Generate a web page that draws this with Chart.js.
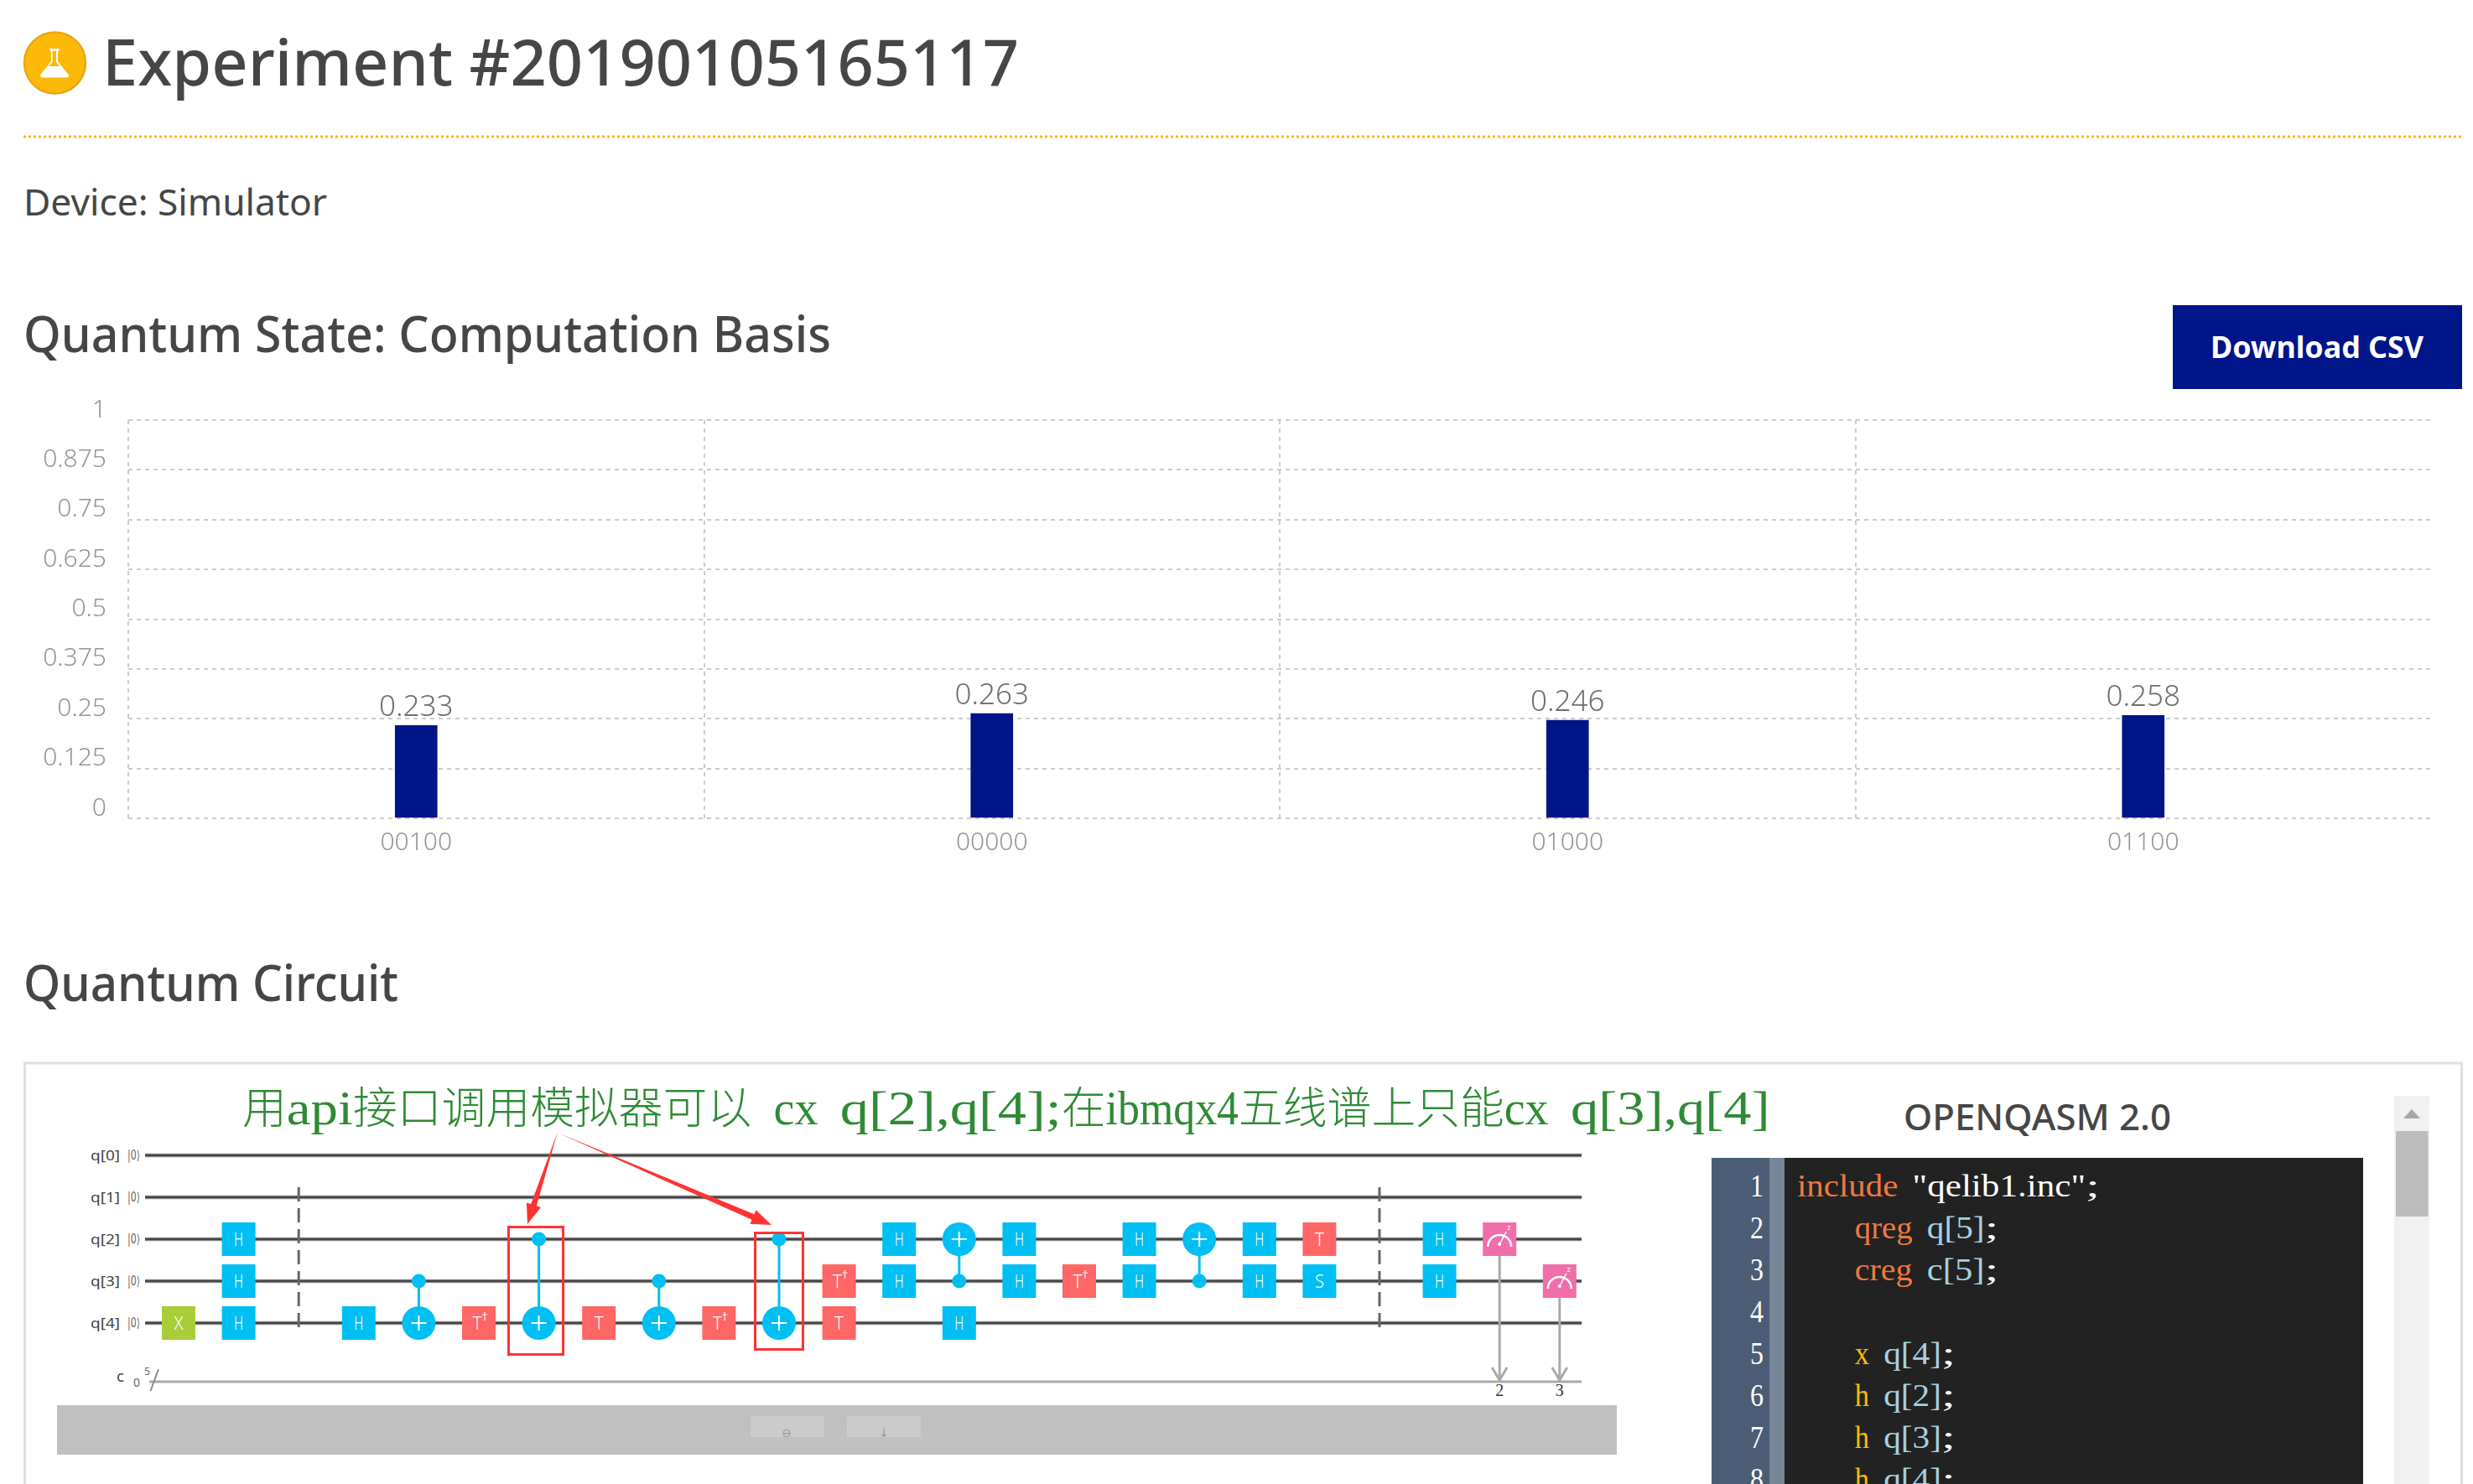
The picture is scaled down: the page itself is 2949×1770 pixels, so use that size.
<!DOCTYPE html>
<html>
<head>
<meta charset="utf-8">
<title>Experiment #20190105165117</title>
<script src="https://cdn.jsdelivr.net/npm/chart.js@4/dist/chart.umd.min.js"></script>
<style>
html, body { margin: 0; background: #fff; overflow: hidden; }
#page { position: absolute; left: 0; top: 0; }
#stateChart { position: absolute; left: 0; top: 440px; }
</style>
</head>
<body>
<svg id="page" width="2949" height="1770" xmlns="http://www.w3.org/2000/svg"></svg>
<canvas id="stateChart" width="2949" height="600"></canvas>
<script>
// chart data
const states = ['00100', '00000', '01000', '01100'];
const probabilities = [0.233, 0.263, 0.246, 0.258];
const yTickLabels = ['0', '0.125', '0.25', '0.375', '0.5', '0.625', '0.75', '0.875', '1'];

// circuit: [column, wire, label]
const singleGates = [
    [0, 4, 'X'], [1, 2, 'H'], [1, 3, 'H'], [1, 4, 'H'], [3, 4, 'H'],
    [5, 4, 'T†'], [7, 4, 'T'], [9, 4, 'T†'], [11, 3, 'T†'], [11, 4, 'T'],
    [12, 2, 'H'], [12, 3, 'H'], [13, 4, 'H'], [14, 2, 'H'], [14, 3, 'H'],
    [15, 3, 'T†'], [16, 2, 'H'], [16, 3, 'H'], [18, 2, 'H'], [18, 3, 'H'],
    [19, 2, 'T'], [19, 3, 'S'], [21, 2, 'H'], [21, 3, 'H']
];
// [column, control wire, target wire]
const cxGates = [[4, 3, 4], [6, 2, 4], [8, 3, 4], [10, 2, 4], [13, 3, 2], [17, 3, 2]];
const barrierColumns = [2, 20];
// [column, wire, classical bit]
const measures = [[22, 2, '2'], [23, 3, '3']];

const note = '用api接口调用模拟器可以 cx q[2],q[4];在ibmqx4五线谱上只能cx q[3],q[4]';

const codeLines = [
    [[0, 'include', 'kw'], [8, '"qelib1.inc"', 'txt'], [20, ';', 'txt']],
    [[4, 'qreg', 'kw'], [9, 'q[5]', 'arg'], [13, ';', 'txt']],
    [[4, 'creg', 'kw'], [9, 'c[5]', 'arg'], [13, ';', 'txt']],
    [],
    [[4, 'x', 'op'], [6, 'q[4]', 'arg'], [10, ';', 'txt']],
    [[4, 'h', 'op'], [6, 'q[2]', 'arg'], [10, ';', 'txt']],
    [[4, 'h', 'op'], [6, 'q[3]', 'arg'], [10, ';', 'txt']],
    [[4, 'h', 'op'], [6, 'q[4]', 'arg'], [10, ';', 'txt']]
];
const codeColors = { kw: '#ee7a3f', txt: '#ffffff', arg: '#a6d0e2', op: '#fdb90a' };

const UI_FONT = '"Noto Sans", "Open Sans", sans-serif';
const page = document.getElementById('page');

function add(tag, attrs, text) {
    const node = document.createElementNS('http://www.w3.org/2000/svg', tag);
    for (const k in attrs) node.setAttribute(k, attrs[k]);
    if (text !== undefined) node.textContent = text;
    page.appendChild(node);
    return node;
}

function rect(x, y, w, h, fill) {
    return add('rect', { x: x, y: y, width: w, height: h, fill: fill });
}

function line(x1, y1, x2, y2, stroke, width, dash) {
    const attrs = { x1: x1, y1: y1, x2: x2, y2: y2, stroke: stroke, 'stroke-width': width };
    if (dash) attrs['stroke-dasharray'] = dash;
    return add('line', attrs);
}

// text squeezed to the measured width of the original
function label(str, x, y, size, width, fill, weight, family, anchor) {
    const attrs = { x: x, y: y, 'font-size': size, fill: fill, 'font-weight': weight || 400, 'font-family': family || UI_FONT };
    if (width) {
        attrs.textLength = width;
        attrs.lengthAdjust = 'spacingAndGlyphs';
    }
    if (anchor) attrs['text-anchor'] = anchor;
    return add('text', attrs, str);
}

// full width CJK and half width latin, like the mincho font in the screenshot
function mixedText(str, x, baseline, em, fill) {
    const parts = str.match(/[\u4e00-\u9fff]+|[^\u4e00-\u9fff\s]+|\s+/g);
    let cx = x;
    parts.forEach(p => {
        if (/^\s/.test(p)) {
            cx += p.length * em / 2;
        } else if (/[\u4e00-\u9fff]/.test(p)) {
            label(p, cx, baseline - 1, em, p.length * em, fill, 300, '"Noto Sans CJK SC"');
            cx += p.length * em;
        } else {
            label(p, cx, baseline, em * 1.1, p.length * em / 2, fill, 400, '"Liberation Serif"');
            cx += p.length * em / 2;
        }
    });
}

function redArrow(x1, y1, x2, y2) {
    const dx = x2 - x1, dy = y2 - y1, len = Math.hypot(dx, dy);
    const ux = dx / len, uy = dy / len, nx = -uy, ny = ux;
    const bx = x2 - ux * 24, by = y2 - uy * 24;
    const pts = [
        [x1, y1],
        [bx + nx * 3.5, by + ny * 3.5],
        [bx + nx * 9, by + ny * 9],
        [x2, y2],
        [bx - nx * 9, by - ny * 9],
        [bx - nx * 3.5, by - ny * 3.5]
    ];
    add('polygon', { points: pts.map(p => p.join(',')).join(' '), fill: '#f33' });
}

// header part
add('circle', { cx: 65.5, cy: 75, r: 36.5, fill: '#fdb90a', stroke: '#e8a90e', 'stroke-width': 2.5 });
add('path', { d: 'M59 58h11.5v3h-1.5v12l12.5 16q1.5 3-2 3.5h-29q-3.5-.5-2-3.5l12.5-16v-12h-1.5z', fill: '#fff' });
add('path', { d: 'M62.5 61h4.5v13l4 5h-12.5l4-5z', fill: '#fdb90a' });
label('Experiment #20190105165117', 122, 102, 76, 1093, '#464646', 500);
line(28, 163, 2937, 163, '#fdb90a', 3, '3 3');
label('Device: Simulator', 28, 256.5, 44, 362, '#464646');
label('Quantum State: Computation Basis', 28, 419.5, 60, 963, '#464646', 500);
rect(2591, 364, 345, 100, '#001587');
label('Download CSV', 2636, 427, 35, 254, '#ffffff', 700);
label('Quantum Circuit', 28, 1194, 60, 447, '#464646', 500);

// circuit panel
add('rect', { x: 29.5, y: 1268, width: 2906, height: 600, fill: 'none', stroke: '#e0e0e0', 'stroke-width': 3 });
mixedText(note, 289, 1341, 52.8, '#2f8a36');

const wireY = w => 1378 + w * 50;
const colX = c => 213 + c * 71.6;
const BLUE = '#00bff3', RED = '#ff6666';

[0, 1, 2, 3, 4].forEach(w => {
    line(173, wireY(w), 1886, wireY(w), '#c8c8c8', 5);
    line(173, wireY(w), 1886, wireY(w), '#444', 3);
    label('q[' + w + ']', 108, wireY(w) + 6, 17, 35, '#444');
    label('|0⟩', 152, wireY(w) + 5, 15, 15, '#666', 400, '"DejaVu Sans"');
});
line(178, 1648, 1886, 1648, '#aaa', 3);
line(189, 1633, 179.5, 1659, '#888', 2);
label('c', 139, 1648, 18, 9, '#444');
label('0', 159, 1654, 15, 8, '#666');
label('5', 172, 1640, 12, 7, '#666');

barrierColumns.forEach(c => line(colX(c), 1416, colX(c), 1591, '#666', 3, '17 8'));

measures.forEach(m => {
    const x = colX(m[0]);
    line(x, wireY(m[1]) + 20, x, 1647, '#aaa', 3);
    add('polyline', { points: (x - 9) + ',1631 ' + x + ',1646 ' + (x + 9) + ',1631', fill: 'none', stroke: '#aaa', 'stroke-width': 3 });
    label(m[2], x, 1665, 20, 0, '#333', 400, '"Liberation Serif"', 'middle');
    const y = wireY(m[1]);
    rect(x - 20, y - 20, 40, 40, '#f06fab');
    add('path', { d: 'M' + (x - 14) + ' ' + (y + 9) + 'a14 14 0 0 1 28 0', fill: 'none', stroke: '#fff', 'stroke-width': 2.5 });
    add('path', { d: 'M' + x + ' ' + (y + 6) + 'l8-15', fill: 'none', stroke: '#fff', 'stroke-width': 1.5 });
    add('circle', { cx: x, cy: y + 6, r: 2, fill: '#fff' });
    label('z', x + 9, y - 11, 9, 0, '#fff');
});

singleGates.forEach(g => {
    const x = colX(g[0]), y = wireY(g[1]), name = g[2];
    const fill = name === 'X' ? '#a7ce38' : name[0] === 'T' ? RED : BLUE;
    rect(x - 20, y - 20, 40, 40, fill);
    if (name === 'T†') {
        label('T', x - 2, y + 8, 22, 11, '#fff', 300, UI_FONT, 'middle');
        label('†', x + 7, y - 3, 13, 0, '#fff', 400, UI_FONT, 'middle');
    } else {
        label(name, x, y + 8, 22, 11, '#fff', 300, UI_FONT, 'middle');
    }
});

cxGates.forEach(g => {
    const x = colX(g[0]), cy = wireY(g[1]), ty = wireY(g[2]);
    line(x, cy, x, ty, BLUE, 3);
    add('circle', { cx: x, cy: cy, r: 8.5, fill: BLUE });
    add('circle', { cx: x, cy: ty, r: 20, fill: BLUE });
    line(x - 9, ty, x + 9, ty, '#fff', 2);
    line(x, ty - 9, x, ty + 9, '#fff', 2);
});

// hand drawn annotation
add('rect', { x: 606.5, y: 1463.5, width: 65, height: 152, fill: 'none', stroke: '#f33', 'stroke-width': 3 });
add('rect', { x: 900.5, y: 1470.5, width: 57, height: 139, fill: 'none', stroke: '#f33', 'stroke-width': 3 });
redArrow(665, 1350, 629, 1460);
redArrow(665, 1351, 920, 1461);

// zoom toolbar under the circuit
rect(68, 1676, 1860, 59, '#c0c0c0');
rect(895, 1689, 88, 25, '#cbcbcb');
rect(1010, 1689, 88, 25, '#cbcbcb');
label('⊖', 938, 1714, 14, 0, '#999', 400, '"DejaVu Sans"', 'middle');
label('↓', 1054, 1714, 14, 0, '#999', 400, '"DejaVu Sans"', 'middle');

// code editor
label('OPENQASM 2.0', 2270, 1348, 44, 319, '#464646', 500);
rect(2041, 1381, 777, 400, '#222222');
rect(2041, 1381, 69, 400, '#4a5d75');
rect(2110, 1381, 18, 400, '#768698');
codeLines.forEach((tokens, i) => {
    const y = 1427 + i * 50;
    const num = String(i + 1);
    label(num, 2087, y, 37, 16, '#ffffff', 400, '"Liberation Serif"');
    tokens.forEach(t => {
        label(t[1], 2143 + t[0] * 17.2, y, 38, t[1].length * 17.2, codeColors[t[2]], 400, '"Liberation Serif"');
    });
});
rect(2855, 1307, 42, 470, '#f1f1f1');
add('polygon', { points: '2866,1334 2886,1334 2876,1323', fill: '#a6a6a6' });
rect(2857, 1349, 38.5, 102, '#bdbdbd');

// value above each bar
const barValues = {
    id: 'barValues',
    afterDatasetsDraw(chart) {
        const ctx = chart.ctx;
        ctx.save();
        ctx.font = '300 35px ' + UI_FONT;
        ctx.fillStyle = '#707070';
        ctx.textAlign = 'center';
        ctx.textBaseline = 'alphabetic';
        chart.getDatasetMeta(0).data.forEach((bar, i) => {
            ctx.fillText(String(probabilities[i]), bar.x, bar.y - 11);
        });
        ctx.restore();
    }
};

const tickFont = { family: UI_FONT, size: 30, weight: 300, lineHeight: 0.8 };

new Chart(document.getElementById('stateChart'), {
    type: 'bar',
    data: {
        labels: states,
        datasets: [{
            data: probabilities,
            backgroundColor: '#001587',
            barThickness: 50
        }]
    },
    options: {
        responsive: false,
        animation: false,
        layout: { padding: { top: 61, right: 50, bottom: 4, left: 0 } },
        plugins: { legend: { display: false }, tooltip: { enabled: false } },
        scales: {
            x: {
                border: { display: false, dash: [5, 5] },
                grid: {
                    color: c => c.tick ? '#cccccc' : 'transparent',
                    lineWidth: 2,
                    drawTicks: false
                },
                ticks: { color: '#969696', font: tickFont, padding: 17, maxRotation: 0 },
                afterFit: ax => { ax.height = 60; }
            },
            y: {
                min: 0,
                max: 1,
                border: { display: false, dash: [5, 5] },
                grid: { color: '#cccccc', lineWidth: 2, drawTicks: false },
                ticks: {
                    stepSize: 0.125,
                    autoSkip: false,
                    color: '#969696',
                    font: tickFont,
                    padding: 26,
                    // second empty line lifts the label above its grid line
                    callback: (v, i) => [yTickLabels[i], '']
                },
                afterFit: ax => { ax.width = 153; }
            }
        }
    },
    plugins: [barValues]
});
</script>
</body>
</html>
